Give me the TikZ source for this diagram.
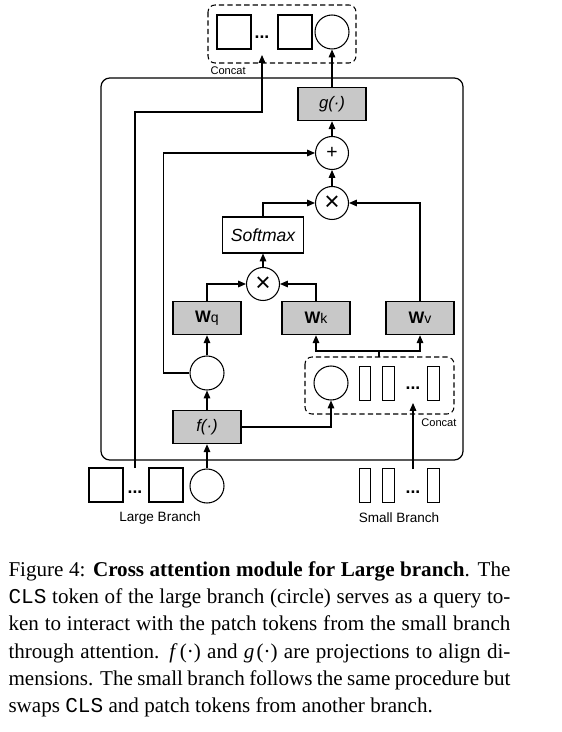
\documentclass[tikz,border=0pt]{standalone}
\usepackage{fontspec}
\setmainfont{Liberation Serif}
\setsansfont{Liberation Sans}
\setmonofont{Liberation Mono}
\usetikzlibrary{arrows.meta}
\definecolor{projgray}{RGB}{200,200,200}
\tikzset{
  tok/.style={draw,minimum size=0.68cm,inner sep=0pt},
  cls/.style={draw,circle,minimum size=0.68cm,inner sep=0pt},
  bar/.style={draw,minimum width=0.23cm,minimum height=0.67cm,inner sep=0pt},
  proj/.style={draw,fill=projgray,minimum width=1.36cm,minimum height=0.67cm,inner sep=0pt,
    font=\sffamily\fontsize{9.5}{10}\selectfont},
  op/.style={draw,circle,minimum size=0.66cm,inner sep=0pt,font=\sffamily\fontsize{11}{11}\selectfont},
  dots/.style={inner sep=0pt,font=\sffamily\bfseries\fontsize{10}{10}\selectfont},
  lbl/.style={inner sep=0pt,font=\sffamily\fontsize{7.7}{9}\selectfont},
  catlbl/.style={inner sep=0pt,font=\sffamily\fontsize{6.3}{7}\selectfont},
  catbox/.style={dash pattern=on 3pt off 1.8pt,rounded corners=4pt},
}
\newcommand{\wsub}[1]{\textbf{W}{\fontsize{8}{8}\selectfont #1}}
\begin{document}
\begin{tikzpicture}[x=0.02cm,y=-0.02cm,line width=0.6pt,>={Triangle[length=4.5pt,width=3.8pt]}]
  \useasboundingbox (0,0) rectangle (561,732);
  % module frame
  \draw[line width=0.7pt,rounded corners=5pt] (101,78) rectangle (463,460);
  % output tokens
  \draw[catbox] (208,5) rectangle (356,63);
  \node[tok] (T1) at (234,32) {};
  \node[dots] (Td) at (262,37) {...};
  \node[tok] (T2) at (295,32) {};
  \node[cls] (Tc) at (332,32) {};
  \node[catlbl,anchor=west] at (210,71) {Concat};
  \coordinate (Tin) at (262,55);
  % attention block
  \node[proj] (G) at (332,104) {\itshape g(·)};
  \node[op] (Plus) at (332,153) {+};
  \node[op] (Mul2) at (332,203) {\fontsize{15}{15}\selectfont ×};
  \node[draw,minimum width=1.62cm,minimum height=0.72cm,inner sep=0pt,
    font=\sffamily\itshape\fontsize{10}{10}\selectfont] (Soft) at (263,235) {Softmax};
  \node[op] (Mul1) at (263,284) {\fontsize{15}{15}\selectfont ×};
  \foreach \n/\x/\s in {Wq/207/q, Wk/316/k, Wv/420/v}{
    \node[proj] (\n) at (\x,318) {\wsub{\s}};
  }
  \node[cls] (Q) at (207,373) {};
  \node[proj] (F) at (207,427) {\itshape f(·)};
  % small branch concat
  \draw[catbox] (305,357) rectangle (454,414);
  \node[cls] (Sc) at (331,383) {};
  \foreach \x/\n in {365/S1, 388.5/S2, 433.5/S3}{
    \node[bar] (\n) at (\x,383.5) {};
  }
  \node[dots] (Sd) at (413,388) {...};
  \node[catlbl,anchor=east] at (457,423) {Concat};
  \coordinate (Stop) at (379,357);
  \coordinate (KV) at (379,351);
  \coordinate (Sin) at (413,403);
  % inputs
  \node[tok] (L1) at (106,485) {};
  \node[dots] (Ld) at (135,492) {...};
  \node[tok] (L2) at (166,485) {};
  \node[cls] (Lc) at (207,486) {};
  \foreach \x/\n in {365/B1, 388.5/B2, 433.5/B3}{
    \node[bar] (\n) at (\x,485.5) {};
  }
  \node[dots] (Bd) at (413,492) {...};
  \node[lbl] at (160,518) {Large Branch};
  \node[lbl] at (399,518) {Small Branch};
  \coordinate (Lout) at (135,468);
  \coordinate (Bout) at (413,469);
  % connections
  \draw[->] (Lout) -- ++(0,-356) -| (Tin);
  \draw[->] (Lc) -- (F);
  \draw[->] (F) -- (Q);
  \draw[->] (Q) -- (Wq);
  \draw[->] (Q.west) -- ++(-26,0) |- (Plus.west);
  \draw[->] (F.east) -| (Sc.south);
  \draw[->] (Bout) -- (Sin);
  \draw (Stop) -- (KV);
  \draw[->] (KV) -| (Wk.south);
  \draw[->] (KV) -| (Wv.south);
  \draw[->] (Wq.north) |- (Mul1.west);
  \draw[->] (Wk.north) |- (Mul1.east);
  \draw[->] (Mul1) -- (Soft);
  \draw[->] (Soft.north) |- (Mul2.west);
  \draw[->] (Wv.north) |- (Mul2.east);
  \draw[->] (Mul2) -- (Plus);
  \draw[->] (Plus) -- (G);
  \draw[->] (G) -- (Tc);
  % caption
  \node[anchor=north west,inner sep=0pt,text width=10.04cm,align=justify,
    font=\fontsize{12}{15.5}\selectfont] (cap) at (8,561) {Figure 4: \textbf{Cross attention module for Large branch}. The\linebreak
    \texttt{CLS} token of the large branch (circle) serves as a query to-\linebreak
    ken to interact with the patch tokens from the small branch\linebreak
    through attention. \textit{f}\kern0.1em(·) and \textit{g}\kern0.1em(·) are projections to align di-\linebreak
    mensions. The small branch follows the same procedure but\linebreak
    swaps \texttt{CLS} and patch tokens from another branch.};
\end{tikzpicture}
\end{document}
